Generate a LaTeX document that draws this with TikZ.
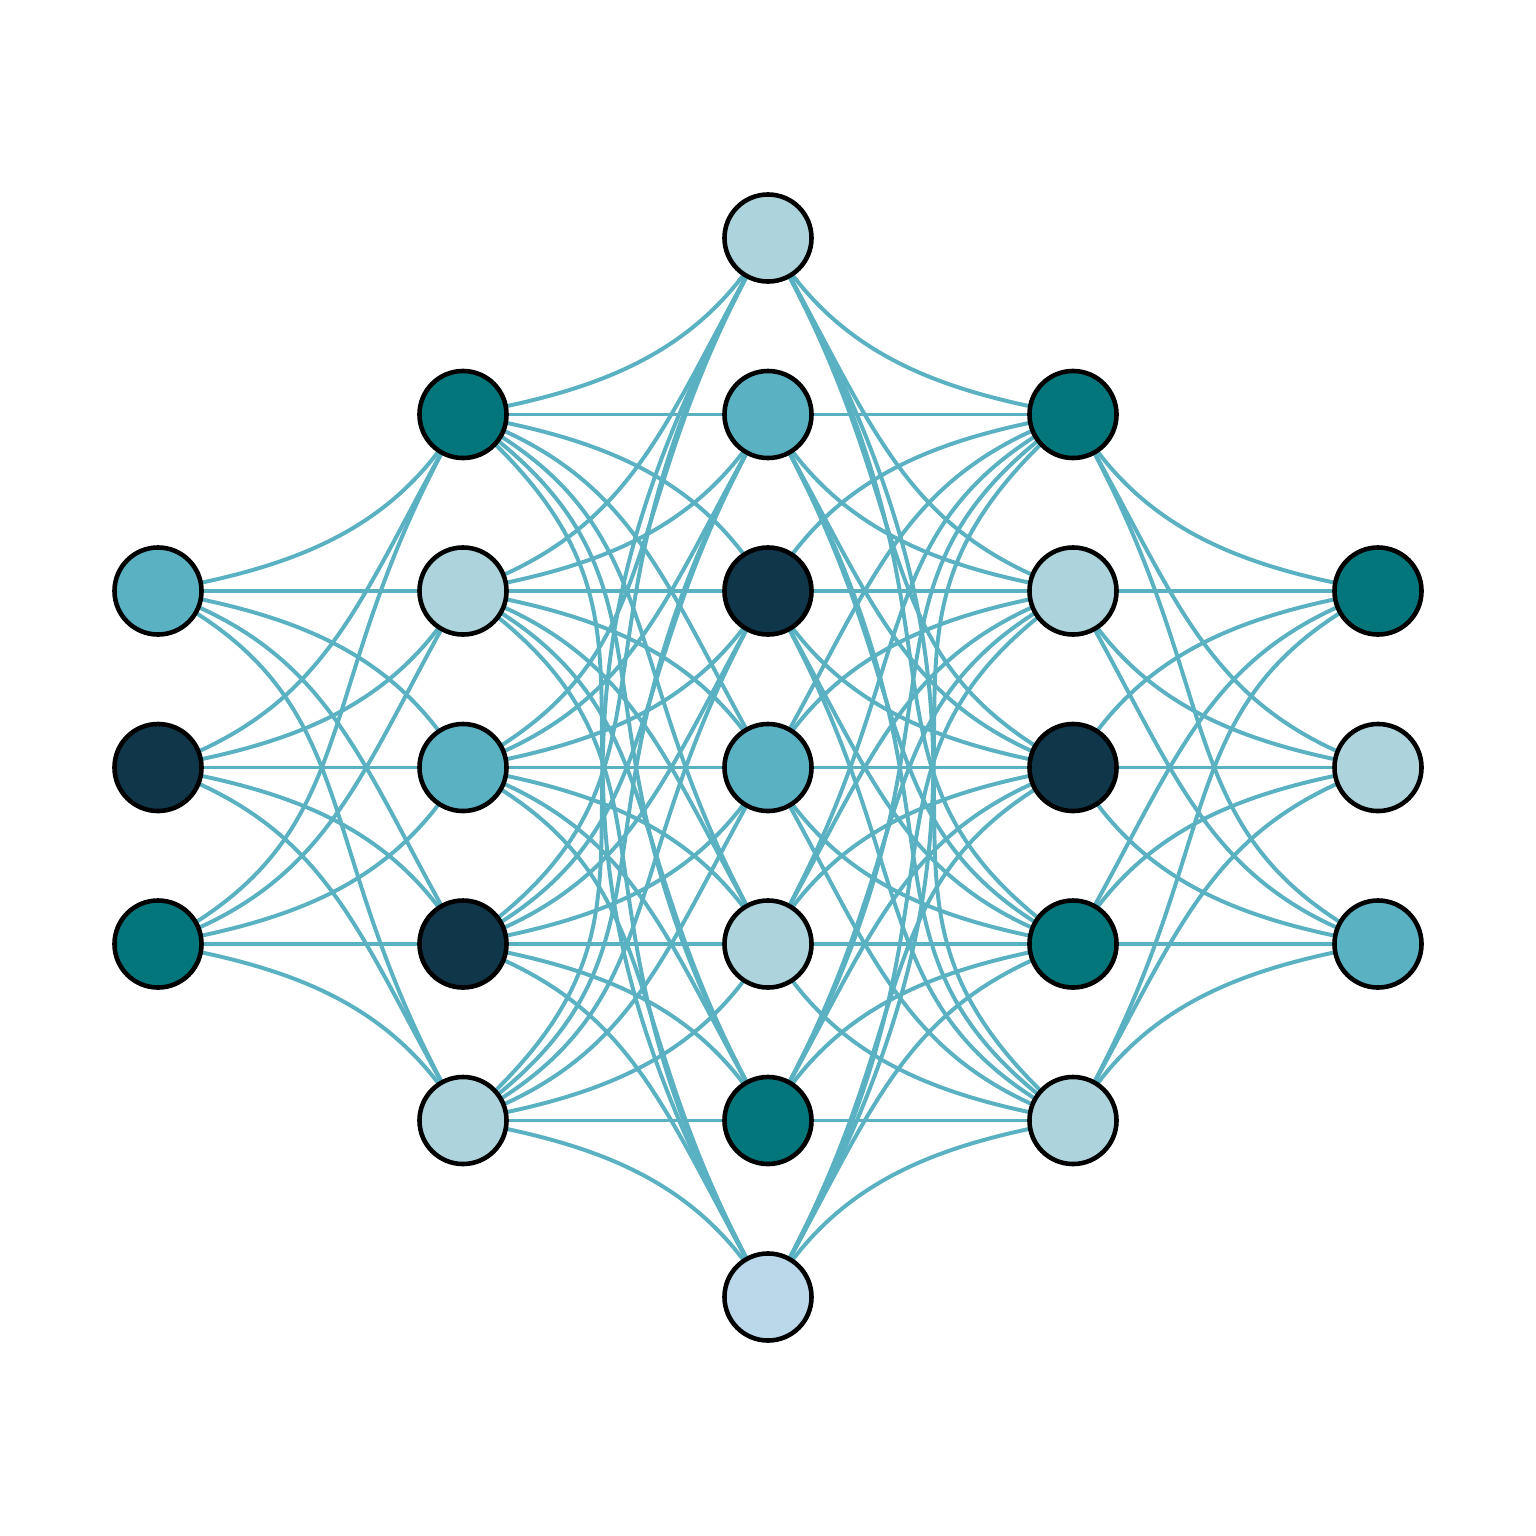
\documentclass[tikz,border=0pt]{standalone}
\usetikzlibrary{calc}
\pgfdeclarelayer{background}
\pgfsetlayers{background,main}
\definecolor{cmid}{HTML}{5AB1C2}
\definecolor{cdark}{HTML}{10364A}
\definecolor{cteal}{HTML}{03767B}
\definecolor{clight}{HTML}{ADD4DC}
\definecolor{cvlight}{HTML}{BBD8EA}
\definecolor{cedge}{HTML}{5AB1C2}
\tikzset{
  neuron/.style={circle,draw=black,line width=1.3pt,minimum size=0.87cm,inner sep=0pt},
  link/.style={draw=cedge,line width=1.12pt}
}
% #1 = node on the outer layer, #2 = node on the inner layer
\newcommand\clink[2]{%
  \draw[link] let \p1=(#1.center), \p2=(#2.center),
    \n1={abs(\x2-\x1)}, \n2={\y2-\y1},
    \n3={sign(\x2-\x1)}, \n4={sign(\y2-\y1)},
    \n5={veclen(\x2-\x1,\y2-\y1)},
    \n8={abs(\n2)/\n1},
    \n6={atan(0.3*\n8)},
    \n9={0.4*\n5}, \n{10}={(0.375+0.132*(\n8-0.578))*\n5} in
    (#1.center) .. controls ({\x1+\n3*\n9*cos(\n6)},{\y1+\n4*\n9*sin(\n6)})
    and ({\x2-\n3*\n{10}*0.5},{\y2-\n4*\n{10}*0.866}) .. (#2.center);}
\begin{document}
\begin{tikzpicture}[x=0.01cm,y=-0.01cm]
\useasboundingbox (0,0) rectangle (1536,1536);
% layer 1
\node[neuron,fill=cmid]  (a1) at (158,591) {};
\node[neuron,fill=cdark] (a2) at (158,767.5) {};
\node[neuron,fill=cteal] (a3) at (158,944) {};
% layer 2
\node[neuron,fill=cteal]  (b1) at (463,414.5) {};
\node[neuron,fill=clight] (b2) at (463,591) {};
\node[neuron,fill=cmid]   (b3) at (463,767.5) {};
\node[neuron,fill=cdark]  (b4) at (463,944) {};
\node[neuron,fill=clight] (b5) at (463,1120.5) {};
% layer 3
\node[neuron,fill=clight]  (c1) at (768,238) {};
\node[neuron,fill=cmid]    (c2) at (768,414.5) {};
\node[neuron,fill=cdark]   (c3) at (768,591) {};
\node[neuron,fill=cmid]    (c4) at (768,767.5) {};
\node[neuron,fill=clight]  (c5) at (768,944) {};
\node[neuron,fill=cteal]   (c6) at (768,1120.5) {};
\node[neuron,fill=cvlight] (c7) at (768,1297) {};
% layer 4
\node[neuron,fill=cteal]  (d1) at (1073,414.5) {};
\node[neuron,fill=clight] (d2) at (1073,591) {};
\node[neuron,fill=cdark]  (d3) at (1073,767.5) {};
\node[neuron,fill=cteal]  (d4) at (1073,944) {};
\node[neuron,fill=clight] (d5) at (1073,1120.5) {};
% layer 5
\node[neuron,fill=cteal]  (e1) at (1378,591) {};
\node[neuron,fill=clight] (e2) at (1378,767.5) {};
\node[neuron,fill=cmid]   (e3) at (1378,944) {};
\begin{pgfonlayer}{background}
\foreach \i in {1,2,3}{\foreach \j in {1,...,5}{\clink{a\i}{b\j}}}
\foreach \i in {1,...,5}{\foreach \j in {1,...,7}{\clink{b\i}{c\j}}}
\foreach \i in {1,...,5}{\foreach \j in {1,...,7}{\clink{d\i}{c\j}}}
\foreach \i in {1,2,3}{\foreach \j in {1,...,5}{\clink{e\i}{d\j}}}
\end{pgfonlayer}
\end{tikzpicture}
\end{document}
